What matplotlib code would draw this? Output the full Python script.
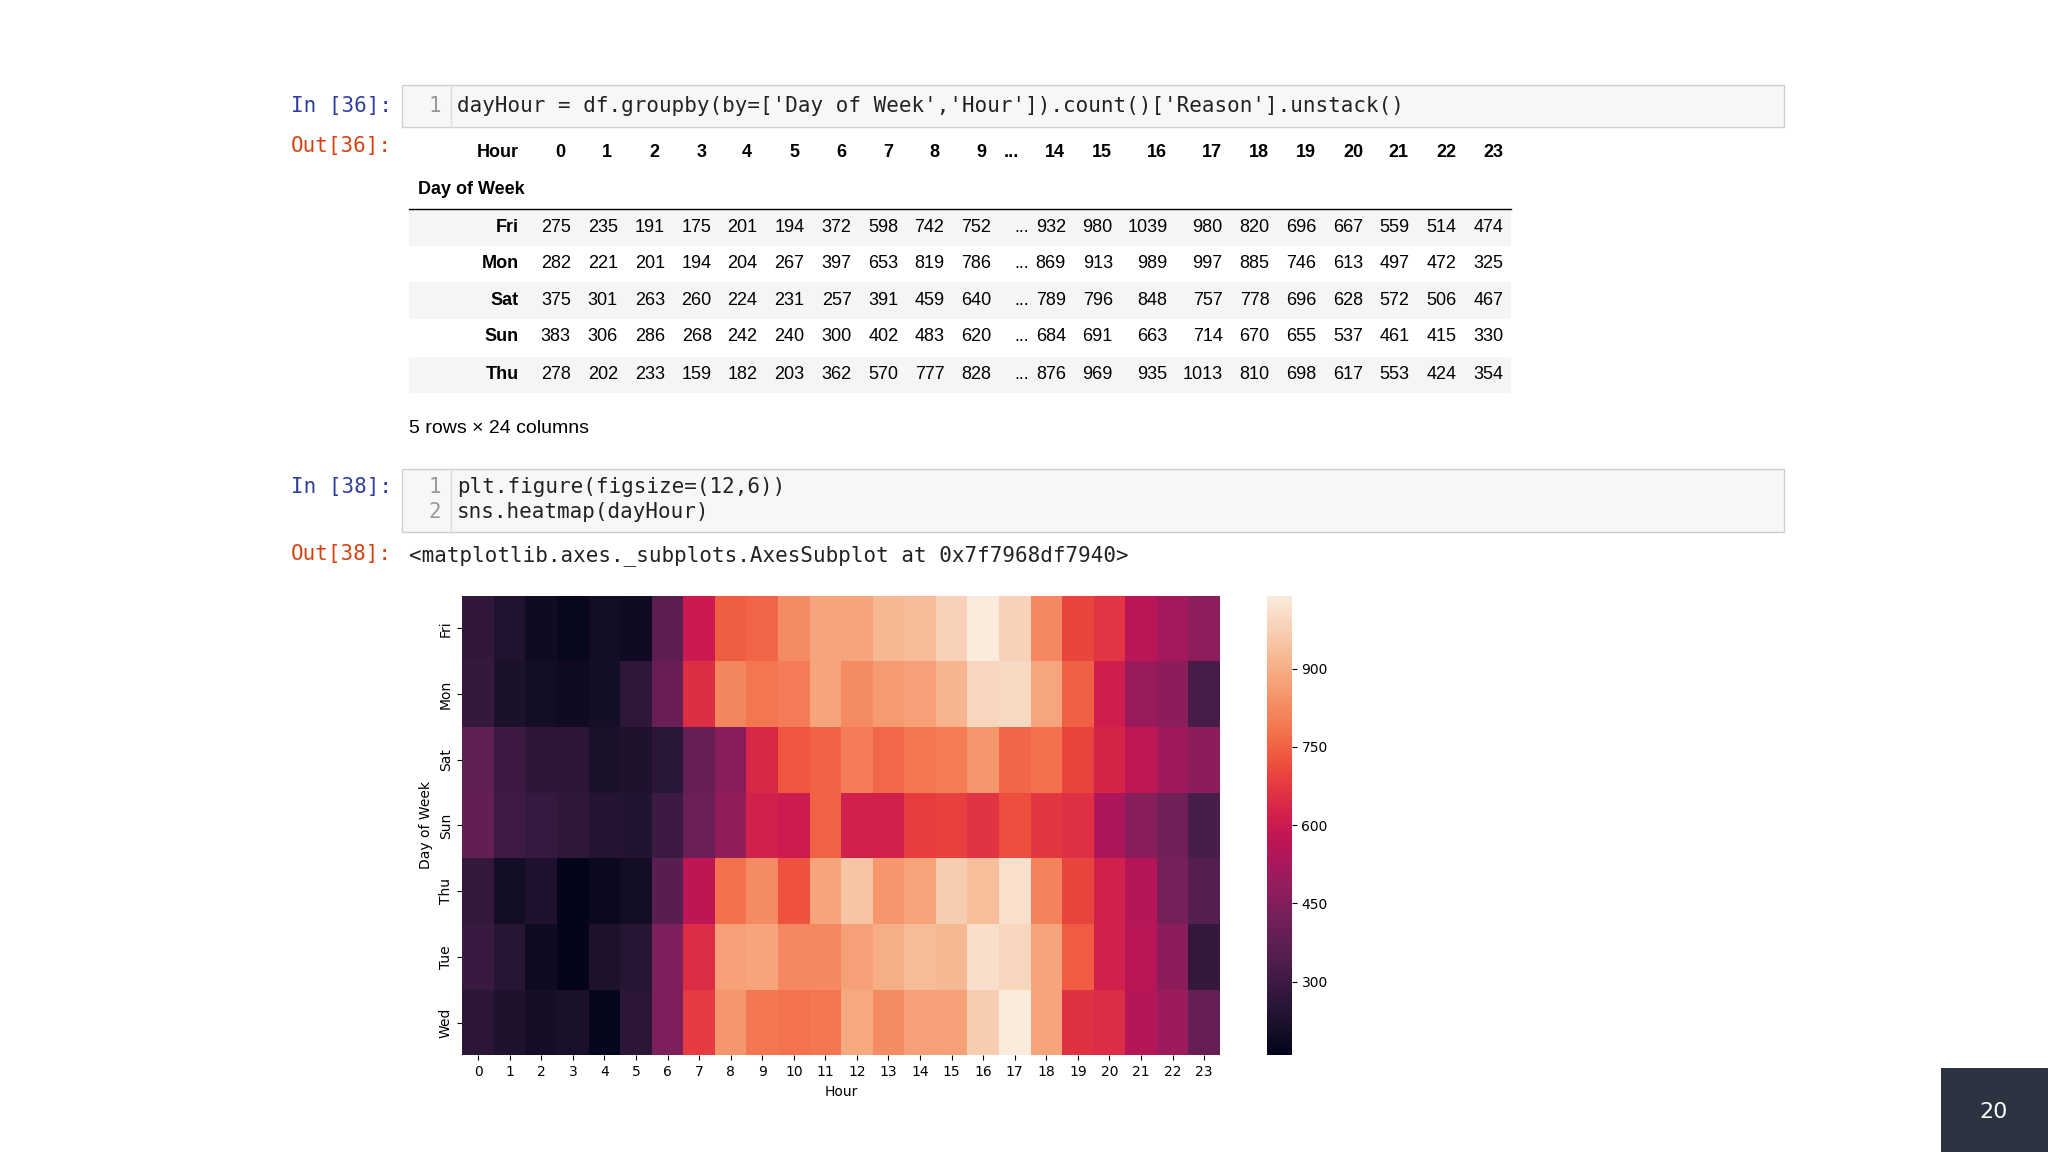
import numpy as np
import matplotlib.pyplot as plt
import matplotlib.patches as mpatches
import seaborn as sns

days = ['Fri', 'Mon', 'Sat', 'Sun', 'Thu', 'Tue', 'Wed']
hours = list(range(24))
fri = [275, 235, 191, 175, 201, 194, 372, 598, 742, 752, 830, 880, 880, 920, 932, 980, 1039, 980, 820, 696, 667, 559, 514, 474]
mon = [282, 221, 201, 194, 204, 267, 397, 653, 819, 786, 800, 880, 830, 860, 869, 913, 989, 997, 885, 746, 613, 497, 472, 325]
sat = [375, 301, 263, 260, 224, 231, 257, 391, 459, 640, 730, 750, 800, 760, 789, 796, 848, 757, 778, 696, 628, 572, 506, 467]
sun = [383, 306, 286, 268, 242, 240, 300, 402, 483, 620, 600, 750, 620, 620, 684, 691, 663, 714, 670, 655, 537, 461, 415, 330]
thu = [278, 202, 233, 159, 182, 203, 362, 570, 777, 828, 720, 880, 950, 850, 876, 969, 935, 1013, 810, 698, 617, 553, 424, 354]
tue = [290, 250, 190, 165, 225, 250, 440, 650, 870, 880, 820, 820, 870, 900, 930, 920, 1010, 990, 880, 740, 620, 560, 470, 280]
wed = [260, 230, 210, 220, 170, 260, 440, 680, 850, 790, 780, 790, 890, 830, 870, 870, 970, 1040, 880, 660, 650, 550, 500, 390]
data = np.array([fri, mon, sat, sun, thu, tue, wed])

W, H = 1568, 882
fig = plt.figure(figsize=(20.48, 11.52), dpi=100)

def fx(x):
    return x / W

def fy(y):
    return 1 - y / H

mono = 'DejaVu Sans Mono'

# code cells
for (y0, y1, lines, prompt, py) in [(65, 97, ["dayHour = df.groupby(by=['Day of Week','Hour']).count()['Reason'].unstack()"], 'In [36]:', 81),
                                    (359, 407, ["plt.figure(figsize=(12,6))", "sns.heatmap(dayHour)"], 'In [38]:', 373)]:
    fig.patches.append(mpatches.Rectangle((fx(308), fy(y1)), fx(1366 - 308), (y1 - y0) / H, transform=fig.transFigure,
                                          facecolor='#f7f7f7', edgecolor='#cfcfcf', lw=1))
    fig.add_artist(plt.Line2D([fx(345), fx(345)], [fy(y0), fy(y1)], color='#dddddd', lw=1))
    fig.text(fx(300), fy(py), prompt, color='#303F9F', family=mono, fontsize=15, ha='right', va='center')
    for i, l in enumerate(lines):
        fig.text(fx(338), fy(py + i * 19), str(i + 1), color='#999999', family=mono, fontsize=15, ha='right', va='center')
        fig.text(fx(350), fy(py + i * 19), l, color='#222222', family=mono, fontsize=15, va='center')

fig.text(fx(300), fy(112), 'Out[36]:', color='#D84315', family=mono, fontsize=15, ha='right', va='center')
fig.text(fx(300), fy(424), 'Out[38]:', color='#D84315', family=mono, fontsize=15, ha='right', va='center')
fig.text(fx(313), fy(425), '<matplotlib.axes._subplots.AxesSubplot at 0x7f7968df7940>', color='#222222',
         family=mono, fontsize=15, va='center')

# dataframe table
col_labels = ['0', '1', '2', '3', '4', '5', '6', '7', '8', '9', '...', '14', '15', '16', '17', '18', '19', '20', '21', '22', '23']
col_x = [429, 465, 501, 537, 572, 608, 644, 680, 715, 751, 774, 808, 844, 886, 928, 964, 1000, 1036, 1071, 1107, 1143]
col_idx = list(range(10)) + [None] + list(range(14, 24))
row_y = [174, 202, 230, 258, 287]
sans = 'Liberation Sans'
fig.text(fx(397), fy(117), 'Hour', fontweight='bold', fontsize=13, ha='right', va='center', family=sans)
for lab, x in zip(col_labels, col_x):
    fig.text(fx(x), fy(117), lab, fontweight='bold', fontsize=13, ha='center', va='center', family=sans)
fig.text(fx(320), fy(145), 'Day of Week', fontweight='bold', fontsize=13, va='center', family=sans)
fig.add_artist(plt.Line2D([fx(313), fx(1157)], [fy(160), fy(160)], color='black', lw=1))
for r, y in enumerate(row_y):
    if r % 2 == 0:
        fig.patches.append(mpatches.Rectangle((fx(313), fy(y + 14)), fx(1157 - 313), 28 / H,
                                              transform=fig.transFigure, facecolor='#f5f5f5', edgecolor='none'))
    fig.text(fx(397), fy(y), days[r], fontweight='bold', fontsize=13, ha='right', va='center', family=sans)
    for ci, x in zip(col_idx, col_x):
        txt = '...' if ci is None else str(data[r, ci])
        fig.text(fx(x + 8), fy(y), txt, fontsize=13, ha='right' if ci is not None else 'center', va='center', family=sans)
fig.text(fx(313), fy(328), '5 rows × 24 columns', fontsize=14, va='center', family=sans)

# heatmap
ax = fig.add_axes([fx(354), fy(808), fx(934 - 354), (808 - 456) / H])
cax = fig.add_axes([fx(970), fy(808), fx(989 - 970), (808 - 456) / H])
sns.heatmap(data, ax=ax, cbar_ax=cax, cmap='rocket', xticklabels=hours, yticklabels=days)
ax.set_xlabel('Hour', fontsize=10)
ax.set_ylabel('Day of Week', fontsize=10)
ax.tick_params(labelsize=10)
ax.set_yticklabels(days, rotation=90, va='center')
ax.set_xticklabels(hours, rotation=0)
cax.set_yticks([300, 450, 600, 750, 900])
cax.tick_params(labelsize=10)

# page number
fig.patches.append(mpatches.Rectangle((fx(1486), 0), fx(82), 64 / H, transform=fig.transFigure,
                                      facecolor='#2b3440', edgecolor='none'))
fig.text(fx(1526), fy(851), '20', color='white', fontsize=16, ha='center', va='center')

fig.savefig('out.png', dpi=100)
